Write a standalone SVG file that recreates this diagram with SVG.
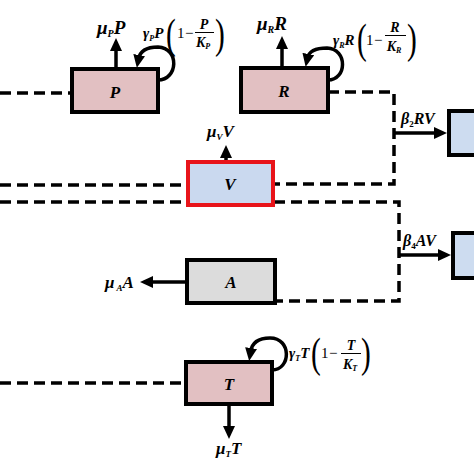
<svg xmlns="http://www.w3.org/2000/svg" width="474" height="474" viewBox="0 0 474 474">
<style>
.lbl{font-family:"Liberation Serif","Times New Roman",serif;font-weight:bold;font-style:italic;fill:#000}
.n{font-family:"Liberation Serif","Times New Roman",serif;fill:#000}
.box{stroke:#000;stroke-width:4}
.pink{fill:#e2c0c2}
.blue{fill:#cddcf0}
.gray{fill:#dcdcdc}
.dash{fill:none;stroke:#000;stroke-width:3.5;stroke-dasharray:11 6}
.arr{fill:none;stroke:#000;stroke-width:3.5}
</style>
<defs>
<marker id="ah" markerWidth="13" markerHeight="12" refX="4" refY="6" orient="auto" markerUnits="userSpaceOnUse">
<path d="M0,0 L13,6 L0,12 z" fill="#000"/>
</marker>
</defs>
<rect width="474" height="474" fill="#fff"/>

<g id="connectors">
<path class="dash" d="M0,93 H72"/>
<path class="dash" d="M328,92 H394 V184 H274"/>
<path class="dash" d="M0,185 H187"/>
<path class="dash" d="M0,202 H187"/>
<path class="dash" d="M274,202 H399 V301 H275"/>
<path class="dash" d="M0,383 H186"/>
<path class="arr" d="M116,68 V47" marker-end="url(#ah)"/>
<path class="arr" d="M282,67 V45" marker-end="url(#ah)"/>
<path class="arr" d="M226,161 V154" marker-end="url(#ah)"/>
<path class="arr" d="M187,282 H149" marker-end="url(#ah)"/>
<path class="arr" d="M229,404 V430" marker-end="url(#ah)"/>
<path class="arr" d="M394,133 H438" marker-end="url(#ah)"/>
<path class="arr" d="M399,255 H442" marker-end="url(#ah)"/>
<path class="arr" d="M158,80 C178,80 180,48 158,47 C147,47 140,51 138.5,59" marker-end="url(#ah)"/>
<path class="arr" d="M328,80 C347,80 348,49 327,48 C316,48 309,51 307.5,58" marker-end="url(#ah)"/>
<path class="arr" d="M272,370 C291,370 292,338 270,338 C259,338 252,342 250.5,352" marker-end="url(#ah)"/>
</g>

<g id="node-P">
<rect class="box pink" x="72" y="69" width="86" height="43"/>
<text class="lbl" x="115" y="98" font-size="17" text-anchor="middle">P</text>
</g>
<g id="node-R">
<rect class="box pink" x="241" y="68" width="87" height="44"/>
<text class="lbl" x="284" y="97" font-size="17" text-anchor="middle">R</text>
</g>
<g id="node-V">
<rect x="188" y="162" width="85" height="43" fill="#cad9ef" stroke="#e8141a" stroke-width="4"/>
<text class="lbl" x="230" y="190" font-size="17" text-anchor="middle">V</text>
</g>
<g id="node-A">
<rect class="box gray" x="187" y="260" width="88" height="43"/>
<text class="lbl" x="231" y="288" font-size="17" text-anchor="middle">A</text>
</g>
<g id="node-T">
<rect class="box pink" x="186" y="362" width="86" height="42"/>
<text class="lbl" x="229" y="390" font-size="17" text-anchor="middle">T</text>
</g>
<g id="node-RV">
<rect class="box blue" x="449" y="111" width="40" height="44"/>
</g>
<g id="node-AV">
<rect class="box blue" x="453" y="233" width="40" height="45"/>
</g>

<g id="labels">
<text class="lbl" x="97" y="34" font-size="19">μ<tspan font-size="10" dy="3">P</tspan><tspan dy="-3">P</tspan></text>
<text class="lbl" x="257" y="30" font-size="19">μ<tspan font-size="10" dy="3">R</tspan><tspan dy="-3">R</tspan></text>
<text class="lbl" x="207" y="137" font-size="17">μ<tspan font-size="9" dy="3">V</tspan><tspan dy="-3">V</tspan></text>
<text class="lbl" x="105" y="288" font-size="17">μ<tspan font-size="9" dx="2" dy="3">A</tspan><tspan dy="-3">A</tspan></text>
<text class="lbl" x="216" y="454" font-size="17">μ<tspan font-size="9" dy="3">T</tspan><tspan dy="-3">T</tspan></text>
<text class="lbl" x="401" y="124" font-size="16">β<tspan font-size="9" font-style="normal" dy="3">2</tspan><tspan dy="-3">RV</tspan></text>
<text class="lbl" x="403" y="246" font-size="16">β<tspan font-size="9" font-style="normal" dy="3">4</tspan><tspan dy="-3">AV</tspan></text>

<text class="lbl" x="143" y="38" font-size="15">γ<tspan font-size="8" dy="3">P</tspan><tspan dy="-3">P</tspan></text>
<text class="n" x="166" y="48" font-size="42" transform="translate(166,48) scale(0.7,1) translate(-166,-48)">(</text>
<text class="n" x="177" y="38" font-size="15">1</text>
<text class="n" x="185" y="38" font-size="15">−</text>
<text class="lbl" x="204" y="29" font-size="14" text-anchor="middle">P</text>
<line x1="195" y1="32.5" x2="214" y2="32.5" stroke="#000" stroke-width="1"/>
<text class="lbl" x="203" y="47" font-size="14" text-anchor="middle">K<tspan font-size="8" dy="2">P</tspan></text>
<text class="n" x="215" y="48" font-size="42" transform="translate(215,48) scale(0.7,1) translate(-215,-48)">)</text>

<text class="lbl" x="333" y="45" font-size="15">γ<tspan font-size="8" dy="3">R</tspan><tspan dy="-3">R</tspan></text>
<text class="n" x="357" y="53" font-size="42" transform="translate(357,53) scale(0.7,1) translate(-357,-53)">(</text>
<text class="n" x="366" y="45" font-size="15">1</text>
<text class="n" x="374" y="45" font-size="15">−</text>
<text class="lbl" x="395" y="32" font-size="14" text-anchor="middle">R</text>
<line x1="385" y1="35.5" x2="406" y2="35.5" stroke="#000" stroke-width="1"/>
<text class="lbl" x="394" y="51" font-size="14" text-anchor="middle">K<tspan font-size="8" dy="2">R</tspan></text>
<text class="n" x="407" y="53" font-size="42" transform="translate(407,53) scale(0.7,1) translate(-407,-53)">)</text>

<text class="lbl" x="289" y="358" font-size="15">γ<tspan font-size="8" dy="3">T</tspan><tspan dy="-3">T</tspan></text>
<text class="n" x="311" y="367" font-size="42" transform="translate(311,367) scale(0.7,1) translate(-311,-367)">(</text>
<text class="n" x="321" y="358" font-size="15">1</text>
<text class="n" x="329" y="358" font-size="15">−</text>
<text class="lbl" x="351" y="350" font-size="14" text-anchor="middle">T</text>
<line x1="341" y1="353.5" x2="361" y2="353.5" stroke="#000" stroke-width="1"/>
<text class="lbl" x="350" y="369" font-size="14" text-anchor="middle">K<tspan font-size="8" dy="2">T</tspan></text>
<text class="n" x="361" y="367" font-size="42" transform="translate(361,367) scale(0.7,1) translate(-361,-367)">)</text>
</g>
</svg>
